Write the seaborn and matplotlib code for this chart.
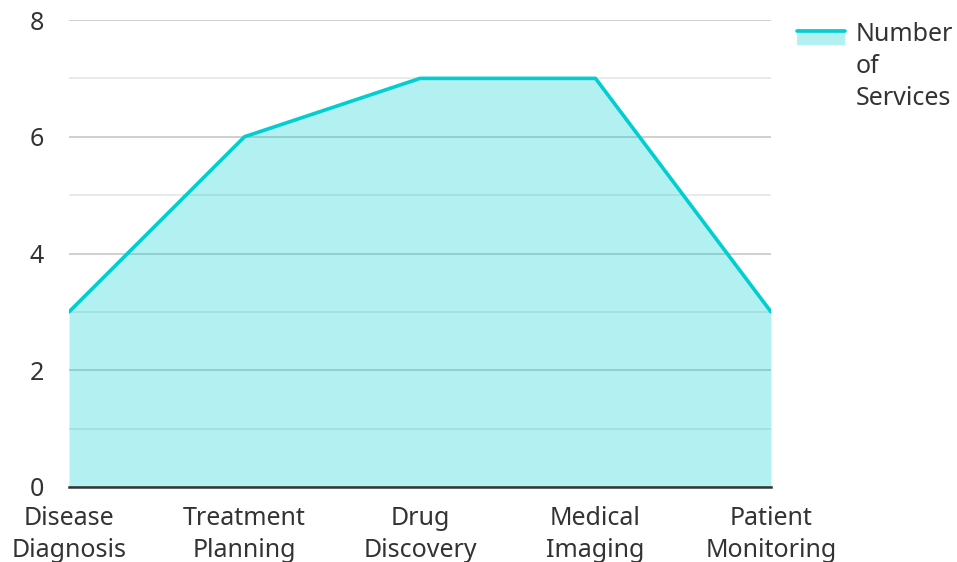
import matplotlib
matplotlib.use("Agg")
import matplotlib.pyplot as plt
import seaborn as sns
import pandas as pd
from matplotlib.patches import Rectangle
from matplotlib.lines import Line2D
from matplotlib.ticker import MultipleLocator

categories = ["Disease\nDiagnosis", "Treatment\nPlanning", "Drug\nDiscovery", "Medical\nImaging", "Patient\nMonitoring"]
values = [3, 6, 7, 7, 3]
series_name = "Number of Services"
legend_label = "Number\nof\nServices"

sns.set_theme(style="white")
plt.rcParams['font.family'] = ['Noto Sans', 'DejaVu Sans']

COLOR = "#00CED1"
TEXT = "#333333"
FS = 18

df = pd.DataFrame({"cat": categories, "val": values})
df["x"] = range(len(df))

fig = plt.figure(figsize=(9.57, 5.62), dpi=100)
ax = fig.add_axes([69/957, 1-487/562, (771-69)/957, (487-20)/562])

ax.fill_between(df["x"], df["val"], 0, color=COLOR, alpha=0.3, linewidth=0, zorder=1)
sns.lineplot(data=df, x="x", y="val", color=COLOR, linewidth=2.6, ax=ax, zorder=4)

ax.set_xlim(0, len(df) - 1)
ax.set_ylim(0, 8)
ax.yaxis.set_major_locator(MultipleLocator(2))
ax.yaxis.set_minor_locator(MultipleLocator(1))
ax.set_xticks(df["x"])
ax.set_xticklabels(categories)
ax.set_xlabel("")
ax.set_ylabel("")

ax.set_axisbelow(True)
ax.grid(False)
ax.grid(axis="y", which="major", color="#cccccc", linewidth=1.3)
ax.grid(axis="y", which="minor", color="#e8e8e8", linewidth=1.3)

for s in ["top", "right", "left"]:
    ax.spines[s].set_visible(False)
ax.spines["bottom"].set_color(TEXT)
ax.spines["bottom"].set_linewidth(1.8)
ax.spines["bottom"].set_zorder(5)

ax.tick_params(axis="y", which="both", length=0, pad=18, labelsize=FS, labelcolor=TEXT)
ax.tick_params(axis="x", which="both", length=0, pad=14, labelsize=FS, labelcolor=TEXT)
for lbl in ax.get_xticklabels():
    lbl.set_linespacing(1.36)
    lbl.set_multialignment("center")

UP = 23.0  # points: raise the handle from the middle line to the first line


class AreaHandler:
    def legend_artist(self, legend, orig_handle, fontsize, handlebox):
        x0, y0 = handlebox.xdescent, handlebox.ydescent + UP
        w, h = handlebox.width, handlebox.height
        rect = Rectangle((x0, y0), w, h, facecolor=COLOR, alpha=0.3, edgecolor="none",
                         transform=handlebox.get_transform())
        ln = Line2D([x0, x0 + w], [y0 + h - 1.2, y0 + h - 1.2], color=COLOR, linewidth=2.6,
                    transform=handlebox.get_transform())
        handlebox.add_artist(rect)
        handlebox.add_artist(ln)
        return rect


proxy = Rectangle((0, 0), 1, 1)
leg = fig.legend([proxy], [legend_label], handler_map={Rectangle: AreaHandler()},
                 loc="upper left", bbox_to_anchor=(797/957, 1-22/562), frameon=False,
                 fontsize=FS, handlelength=1.92, handleheight=0.6, handletextpad=0.44,
                 labelspacing=0.2, borderpad=0, borderaxespad=0)
for t in leg.get_texts():
    t.set_color(TEXT)
    t.set_linespacing(1.36)

fig.savefig("out.png", dpi=100)
